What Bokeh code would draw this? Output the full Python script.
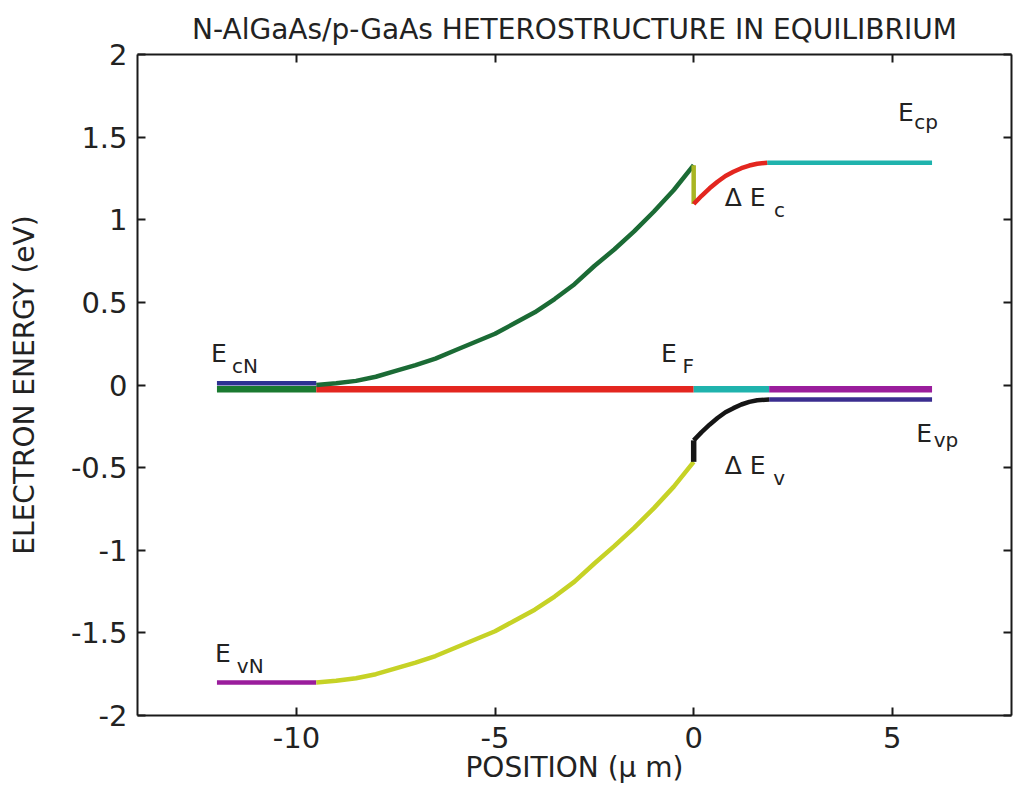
from bokeh.plotting import figure
from bokeh.models import LinearAxis, FixedTicker, Label, Range1d
from bokeh.embed import file_html
from bokeh.resources import INLINE

FONT = "DejaVu Sans"
TXT = "#222222"

# ---- axes ----
x_ticks = [-10, -5, 0, 5]
x_tick_labels = ["-10", "-5", "0", "5"]
y_ticks = [-2, -1.5, -1, -0.5, 0, 0.5, 1, 1.5, 2]
y_tick_labels = ["-2", "-1.5", "-1", "-0.5", "0", "0.5", "1", "1.5", "2"]

# ---- flat levels ----
ecn_ref_x = [-12, -9.5]          # E_cN reference (blue)
ecn_ref_y = [0.01, 0.01]
ecn_flat_x = [-12, -9.5]         # conduction band flat, N side (green)
ecn_flat_y = [-0.025, -0.025]
ef_n_x = [-9.5, 0]               # Fermi level (red)
ef_n_y = [-0.025, -0.025]
ef_mid_x = [0, 1.9]              # Fermi level (cyan)
ef_mid_y = [-0.025, -0.025]
ef_p_x = [1.9, 6]                # Fermi level (purple)
ef_p_y = [-0.025, -0.025]
evp_x = [1.9, 6]                 # E_vp (indigo)
evp_y = [-0.088, -0.088]
ecp_x = [1.85, 6]                # E_cp (cyan)
ecp_y = [1.345, 1.345]
evn_x = [-12, -9.5]              # E_vN (purple)
evn_y = [-1.80, -1.80]

# ---- band-bending curves ----
ec_n_x = [-9.5, -9, -8.5, -8, -7.5, -7, -6.5, -6, -5.5, -5, -4.5, -4, -3.5,
          -3, -2.5, -2, -1.5, -1, -0.5, 0]
ec_n_y = [0.0, 0.01, 0.025, 0.05, 0.085, 0.12, 0.16, 0.21, 0.26, 0.31, 0.375,
          0.44, 0.52, 0.61, 0.72, 0.82, 0.93, 1.05, 1.18, 1.33]
ec_jump_x = [0, 0]
ec_jump_y = [1.33, 1.095]
ec_p_x = [0, 0.2, 0.4, 0.6, 0.8, 1.0, 1.2, 1.4, 1.6, 1.85]
ec_p_y = [1.095, 1.145, 1.19, 1.23, 1.265, 1.29, 1.312, 1.328, 1.339, 1.345]

ev_n_x = [-9.5, -9, -8.5, -8, -7.5, -7, -6.5, -6, -5.5, -5, -4.5, -4, -3.5,
          -3, -2.5, -2, -1.5, -1, -0.5, 0]
ev_n_y = [-1.80, -1.79, -1.775, -1.75, -1.715, -1.68, -1.64, -1.59, -1.54,
          -1.49, -1.425, -1.36, -1.28, -1.19, -1.08, -0.975, -0.865, -0.745,
          -0.615, -0.465]
ev_jump_x = [0, 0]
ev_jump_y = [-0.465, -0.335]
ev_p_x = [0, 0.2, 0.4, 0.6, 0.8, 1.0, 1.2, 1.4, 1.6, 1.9]
ev_p_y = [-0.335, -0.285, -0.24, -0.2, -0.165, -0.14, -0.118, -0.102, -0.092, -0.088]

# ---- band labels: main text and subscript ----
lab_main = ["E", "E", "E", "\u0394 E", "E", "\u0394 E", "E"]
lab_main_x = [-12.15, -12.05, -0.82, 0.78, 5.6, 0.78, 5.14]
lab_main_y = [0.19, -1.625, 0.19, -0.49, -0.295, 1.135, 1.65]
lab_sub = ["cN", "vN", "F", "v", "vp", "c", "cp"]
lab_sub_x = [-11.62, -11.5, -0.28, 2.0, 6.04, 2.02, 5.55]
lab_sub_y = [0.115, -1.70, 0.115, -0.56, -0.33, 1.056, 1.59]

title = "N-AlGaAs/p-GaAs HETEROSTRUCTURE IN EQUILIBRIUM"
x_label = "POSITION (\u03bc m)"
y_label = "ELECTRON ENERGY (eV)"

p = figure(width=1022, height=786, output_backend="svg", toolbar_location=None,
           x_range=Range1d(-14, 8), y_range=Range1d(-2, 2),
           x_axis_location=None, y_axis_location=None,
           min_border_left=137, min_border_right=11,
           min_border_top=54, min_border_bottom=71,
           title=title)
p.background_fill_color = "white"
p.border_fill_color = "white"
p.outline_line_color = None
p.xgrid.visible = False
p.ygrid.visible = False

p.title.text_font = FONT
p.title.text_font_size = "28px"
p.title.text_font_style = "normal"
p.title.text_color = TXT
p.title.align = "center"
p.title.standoff = 18


def make_axis(ticks, labels, show_labels):
    ax = LinearAxis(ticker=FixedTicker(ticks=ticks))
    ax.major_label_overrides = {t: l for t, l in zip(ticks, labels)}
    ax.axis_line_width = 2
    ax.axis_line_color = "#1a1a1a"
    ax.major_tick_line_width = 2
    ax.major_tick_line_color = "#1a1a1a"
    ax.major_tick_in = 8
    ax.major_tick_out = 0
    ax.minor_tick_in = 0
    ax.minor_tick_out = 0
    ax.major_label_text_font = FONT
    if show_labels:
        ax.major_label_text_font_size = "29px"
        ax.major_label_text_color = TXT
    else:
        ax.major_label_text_font_size = "1px"
        ax.major_label_text_color = None
        ax.major_label_standoff = 0
    return ax


xb = make_axis(x_ticks, x_tick_labels, True)
xb.major_label_standoff = 11
xb.axis_label = x_label
xb.axis_label_text_font = FONT
xb.axis_label_text_font_size = "28px"
xb.axis_label_text_font_style = "normal"
xb.axis_label_text_color = TXT
xb.axis_label_standoff = 0
p.add_layout(xb, "below")

yl = make_axis(y_ticks, y_tick_labels, True)
yl.major_label_standoff = 10
yl.axis_label = y_label
yl.axis_label_text_font = FONT
yl.axis_label_text_font_size = "28px"
yl.axis_label_text_font_style = "normal"
yl.axis_label_text_color = TXT
yl.axis_label_standoff = 27
p.add_layout(yl, "left")

p.add_layout(make_axis(x_ticks, x_tick_labels, False), "above")
p.add_layout(make_axis(y_ticks, y_tick_labels, False), "right")

W = 4.5
WF = 6.5
p.line(ecn_ref_x, ecn_ref_y, line_color="#2e3192", line_width=W)
p.line(ecn_flat_x, ecn_flat_y, line_color="#1a7a30", line_width=WF)
p.line(ef_n_x, ef_n_y, line_color="#e3261f", line_width=WF)
p.line(ef_mid_x, ef_mid_y, line_color="#1fb3ad", line_width=WF)
p.line(ef_p_x, ef_p_y, line_color="#9a1d9c", line_width=WF)
p.line(evp_x, evp_y, line_color="#3a2d8f", line_width=W)
p.line(ecp_x, ecp_y, line_color="#1fb3ad", line_width=W)
p.line(evn_x, evn_y, line_color="#9a1d9c", line_width=W)

p.line(ec_n_x, ec_n_y, line_color="#1b6b35", line_width=W)
p.line(ec_jump_x, ec_jump_y, line_color="#a9b522", line_width=W)
p.line(ec_p_x, ec_p_y, line_color="#e3261f", line_width=W)
p.line(ev_n_x, ev_n_y, line_color="#c6d226", line_width=W)
p.line(ev_jump_x, ev_jump_y, line_color="#151515", line_width=W + 1)
p.line(ev_p_x, ev_p_y, line_color="#151515", line_width=W)

for t, x, y in zip(lab_main, lab_main_x, lab_main_y):
    p.add_layout(Label(x=x, y=y, text=t, text_font=FONT, text_font_size="25px",
                       text_color=TXT, text_baseline="alphabetic", text_align="left"))
for t, x, y in zip(lab_sub, lab_sub_x, lab_sub_y):
    p.add_layout(Label(x=x, y=y, text=t, text_font=FONT, text_font_size="20px",
                       text_color=TXT, text_baseline="alphabetic", text_align="left"))

open("out.html", "w").write(file_html(p, INLINE))
